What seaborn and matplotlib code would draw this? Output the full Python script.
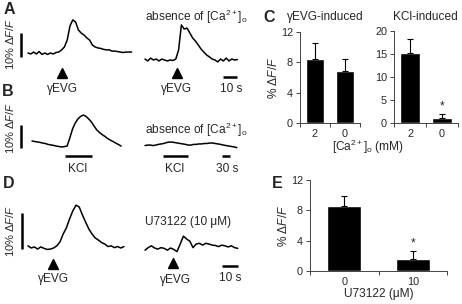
import numpy as np
import matplotlib
matplotlib.use('Agg')
import matplotlib.pyplot as plt
import seaborn as sns
from matplotlib.lines import Line2D

sns.set_style('ticks')
plt.rcParams['font.family'] = ['Liberation Sans', 'DejaVu Sans']
plt.rcParams['mathtext.fontset'] = 'custom'
plt.rcParams['mathtext.rm'] = 'Liberation Sans'
plt.rcParams['mathtext.it'] = 'Liberation Sans:italic'
plt.rcParams['mathtext.bf'] = 'Liberation Sans:bold'

W, H = 462, 304
FS = 8.6     # general text
TS = 7.8     # tick labels
SS = 8.0     # scale-bar labels
LS = 11.5    # panel letters

# Ca2+ traces, % dF/F (A and D sampled every 2 s, B every 10 s)
a_ctrl = [0, -0.4, 0.4, -0.4, 0.6, -0.6, 0, -0.6, 0, -0.4, 0.2, 0.4, 1.3, 2.5,
          5.4, 11.3, 13.8, 12.9, 9.6, 8.3, 7.5, 6.3, 5.4, 3.3, 2.5, 2.1, 1.9,
          1.5, 1.3, 1.3, 0.8, 0.8, 0.6, 0.4, 0.2, 0.4, 0.4, 0.4]
a_noca = [0.4, -0.4, 0.8, 0, 0.4, -0.4, 0.4, 0, -0.4, 0, -0.2, 0.4, 4.2, 14.6,
          12.9, 13.3, 11.3, 9.2, 7.9, 6.3, 4.6, 3.3, 2.1, 1.3, 0.4, 0, -0.8,
          0.4, -0.4, 0.8, -0.4, 0.4, 0, 0.2]
b_ctrl = [2.6, 2.4, 2.2, 2.0, 1.7, 1.5, 1.1, 0.9, 0.7, 0.4, 0.2, 0, 0.2, 0.4,
          3.9, 7.8, 10.4, 12.2, 13.3, 13.9, 13.3, 12.2, 10.9, 9.1, 7.4, 6.3,
          5.4, 4.6, 3.7, 3.0, 2.4, 1.7, 1.1, 0.4]
b_noca = [0.2, 0.4, 0.4, 0.2, 0.4, 0.7, 0.9, 1.1, 1.5, 1.7, 1.7, 1.5, 1.3, 1.1,
          0.9, 0.7, 0.4, 0.4, 0.7, 0.7, 0.9, 0.9, 1.1, 1.1, 1.3, 1.3, 1.1, 0.9,
          0.7, 0.4, 0.2, 0, -0.2, -0.4, -0.7]
d_ctrl = [0.6, 0, 0.3, -0.3, 0.3, -0.1, -0.4, -0.3, 0, 0.6, 1.7, 3.9, 5.6, 8.1,
          10.3, 11.9, 11.4, 9.2, 7.2, 5.3, 3.9, 2.8, 2.2, 1.5, 1.1, 0.4, 0.6,
          0.1, 0.4, 0, 0.4]
d_u73 = [-0.6, 0.1, 0.6, 0, -0.3, 0.1, -0.1, -0.6, 0, -0.4, -1.0, 1.1, 3.3,
         2.5, 1.9, 0.1, 1.1, 1.3, 0.8, 1.3, 1.1, 0.8, 0.7, 0.4, 0.8, 0.6, 0.3,
         0.6, 0.1, -0.1]

# summary bars, % dF/F (mean and upper SEM)
ca_levels = ['2', '0']
evg_mean = [8.5, 6.8]
evg_err = [2.1, 1.6]
kcl_mean = [15.2, 1.1]
kcl_err = [3.1, 0.8]
u73_dose = ['0', '10']
u73_mean = [8.6, 1.6]
u73_err = [1.3, 1.1]

fig = plt.figure(figsize=(W / 100, H / 100), dpi=100)


def fx(x):
    return x / W


def fy(y):
    return 1 - y / H


def txt(x, y, s, **kw):
    kw.setdefault('fontsize', FS)
    kw.setdefault('ha', 'center')
    kw.setdefault('va', 'center')
    fig.text(fx(x), fy(y), s, **kw)


def seg(x1, y1, x2, y2, lw=1.8):
    fig.add_artist(Line2D([fx(x1), fx(x2)], [fy(y1), fy(y2)], color='k',
                          lw=lw, solid_capstyle='butt'))


def arrow(x, y):
    fig.add_artist(Line2D([fx(x)], [fy(y)], marker='^', ms=7.5, color='k',
                          ls='none'))


def trace(vals, dt, box, x0, base, pxs, pyv):
    L, T, R, B = box
    ax = fig.add_axes([fx(L), fy(B), (R - L) / W, (B - T) / H])
    t = np.arange(len(vals)) * dt
    sns.lineplot(x=t, y=vals, ax=ax, color='k', lw=1.1)
    ax.set_xlim((L - x0) / pxs, (R - x0) / pxs)
    ax.set_ylim((base - B) / pyv, (base - T) / pyv)
    ax.axis('off')
    return ax


def bars(box, cats, means, errs, ymax, step, width):
    L, T, R, B = box
    ax = fig.add_axes([fx(L), fy(B), (R - L) / W, (B - T) / H])
    sns.barplot(x=cats, y=means, ax=ax, color='k', width=width, saturation=1,
                order=cats)
    ax.errorbar(range(len(cats)), means, yerr=[np.zeros(len(errs)), errs],
                fmt='none', ecolor='k', elinewidth=0.8, capsize=2.5,
                capthick=0.8)
    ax.set_ylim(0, ymax)
    ax.set_yticks(np.arange(0, ymax + 1, step))
    ax.set_xlim(-0.5, len(cats) - 0.5)
    ax.set_xticks(np.arange(-0.5, len(cats), 1), minor=True)
    ax.tick_params(axis='x', which='major', length=0, labelsize=TS, pad=4)
    ax.tick_params(axis='x', which='minor', length=3, width=0.7, color='#444')
    ax.tick_params(axis='y', length=3, width=0.7, color='#444',
                   labelsize=TS, pad=2)
    for s in ['left', 'bottom']:
        ax.spines[s].set_color('#444')
        ax.spines[s].set_linewidth(0.7)
    sns.despine(ax=ax)
    ax.set_xlabel('')
    return ax


# ---- A
txt(9, 9, 'A', fontsize=LS, fontweight='bold')
txt(10, 44, r'10% $\Delta F/F$', rotation=90, fontsize=SS)
seg(21, 33, 21, 57)
trace(a_ctrl, 2, (26, 15, 136, 65), 28, 53, 1.4, 2.4)
trace(a_noca, 2, (143, 15, 241, 65), 145, 60, 1.4, 2.4)
txt(145, 17, r'absence of [Ca$^{2+}$]$_\mathrm{o}$', ha='left')
arrow(62, 73)
txt(62, 89, 'γEVG')
arrow(177, 73)
txt(176, 89, 'γEVG')
seg(223, 77, 237, 77)
txt(231, 89, '10 s')

# ---- B
txt(8, 92, 'B', fontsize=LS, fontweight='bold')
txt(10, 128, r'10% $\Delta F/F$', rotation=90, fontsize=SS)
seg(21, 125, 21, 148)
trace(b_ctrl, 10, (30, 105, 125, 155), 32, 147, 0.27, 2.3)
trace(b_noca, 10, (143, 132, 240, 155), 145, 146, 0.27, 2.3)
txt(145, 130, r'absence of [Ca$^{2+}$]$_\mathrm{o}$', ha='left')
seg(65, 156, 92, 156)
txt(78, 169, 'KCl')
seg(163, 156, 188, 156)
txt(175, 169, 'KCl')
seg(222, 156, 230, 156)
txt(227, 169, '30 s')

# ---- D
txt(9, 183, 'D', fontsize=LS, fontweight='bold')
txt(10, 231, r'10% $\Delta F/F$', rotation=90, fontsize=SS)
seg(22, 213, 22, 249)
trace(d_ctrl, 2, (26, 195, 128, 256), 28, 248, 1.6, 3.6)
trace(d_u73, 2, (143, 225, 240, 256), 145, 248, 1.6, 3.6)
txt(145, 222, 'U73122 (10 μM)', ha='left')
arrow(53, 264)
txt(53, 279, 'γEVG')
arrow(173, 263)
txt(175, 280, 'γEVG')
seg(222, 266, 238, 266)
txt(230, 278, '10 s')

# ---- C
txt(269, 17, 'C', fontsize=LS, fontweight='bold')
ax = bars((300, 32, 360, 123), ca_levels, evg_mean, evg_err, 12, 4, 0.6)
ax.set_ylabel(r'% $\Delta F/F$', fontsize=FS, labelpad=1)
txt(325, 17, 'γEVG-induced')
ax = bars((394, 31, 458, 123), ca_levels, kcl_mean, kcl_err, 20, 5, 0.6)
ax.annotate('*', (1, kcl_mean[1] + kcl_err[1]), xytext=(0, 1),
            textcoords='offset points', ha='center', va='bottom', fontsize=FS)
txt(425, 17, 'KCl-induced')
txt(368, 147, r'[Ca$^{2+}$]$_\mathrm{o}$ (mM)')

# ---- E
txt(277, 183, 'E', fontsize=LS, fontweight='bold')
ax = bars((310, 180, 447, 271), u73_dose, u73_mean, u73_err, 12, 4, 0.5)
ax.set_ylabel(r'% $\Delta F/F$', fontsize=FS, labelpad=1)
ax.set_xlabel('U73122 (μM)', fontsize=FS, labelpad=1)
ax.annotate('*', (1, u73_mean[1] + u73_err[1]), xytext=(0, 1),
            textcoords='offset points', ha='center', va='bottom', fontsize=FS)

fig.savefig('out.png', dpi=100, facecolor='white')
